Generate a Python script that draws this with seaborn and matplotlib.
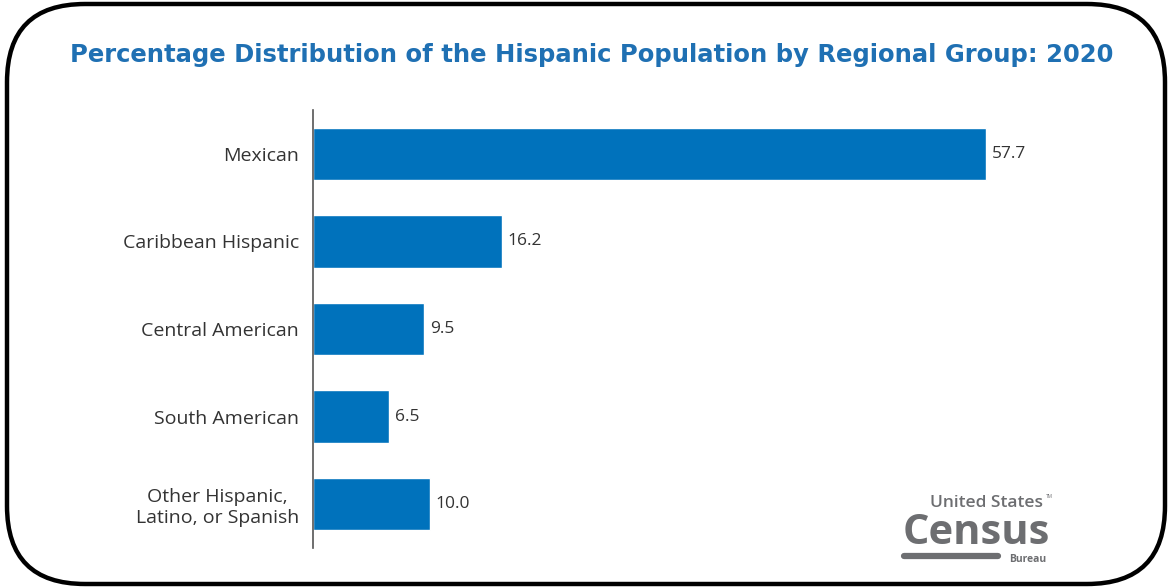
import matplotlib
matplotlib.use("Agg")
import matplotlib.pyplot as plt
import seaborn as sns
import pandas as pd
from matplotlib.patches import FancyBboxPatch

# data
groups = ["Mexican", "Caribbean Hispanic", "Central American", "South American",
          "Other Hispanic,\nLatino, or Spanish"]
percent = [57.7, 16.2, 9.5, 6.5, 10.0]
title = "Percentage Distribution of the Hispanic Population by Regional Group: 2020"

df = pd.DataFrame({"group": groups, "percent": percent})

sns.set_theme(style="white")
plt.rcParams["font.family"] = ["Open Sans", "DejaVu Sans"]

blue = "#0072bc"
grey = "#6d6e71"

fig = plt.figure(figsize=(11.72, 5.88), dpi=100)

# background frame in pixel coordinates
bg = fig.add_axes([0, 0, 1, 1])
bg.set_xlim(0, 1172)
bg.set_ylim(0, 588)
bg.axis("off")
frame = FancyBboxPatch((7, 4), 1158, 580, boxstyle="round,pad=0,rounding_size=78",
                       fill=False, edgecolor="black", linewidth=3.2)
bg.add_patch(frame)

fig.text(592 / 1172, 1 - 55 / 588, title, ha="center", va="center", fontsize=17.5,
         fontweight="bold", color="#1f70b3", family="DejaVu Sans")

ax = fig.add_axes([313 / 1172, 1 - 548 / 588, (1130 - 313) / 1172, (548 - 110) / 588])
sns.barplot(data=df, x="percent", y="group", color=blue, width=0.6, saturation=1,
            ax=ax, orient="h")
ax.set_xlim(0, 70)
ax.set_ylim(4.5, -0.5)
ax.set_xlabel("")
ax.set_ylabel("")
ax.set_xticks([])
for s in ["top", "right", "bottom"]:
    ax.spines[s].set_visible(False)
ax.spines["left"].set_color("#555555")
ax.spines["left"].set_linewidth(1.2)
ax.tick_params(axis="y", length=0, pad=10, labelsize=14, labelcolor="#333333")
for lbl in ax.get_yticklabels():
    lbl.set_multialignment("center")
for i, v in enumerate(percent):
    ax.text(v + 0.5, i, f"{v:.1f}", va="center", ha="left", fontsize=12.5, color="#333333")

# logo
fig.text(987 / 1172, 1 - 503 / 588, "United States", ha="center", va="center",
         fontsize=12.5, color=grey, fontweight="semibold")
fig.text(1046 / 1172, 1 - 497 / 588, "TM", ha="left", va="center", fontsize=3.5, color=grey)
fig.text(976 / 1172, 1 - 533 / 588, "Census", ha="center", va="center",
         fontsize=30, color=grey, fontweight="bold")
bg.plot([904, 998], [588 - 556, 588 - 556], color=grey, linewidth=4.5, solid_capstyle="round")
fig.text(1028 / 1172, 1 - 559 / 588, "Bureau", ha="center", va="center",
         fontsize=7.5, color=grey, fontweight="bold")

fig.savefig("out.png", dpi=100)
